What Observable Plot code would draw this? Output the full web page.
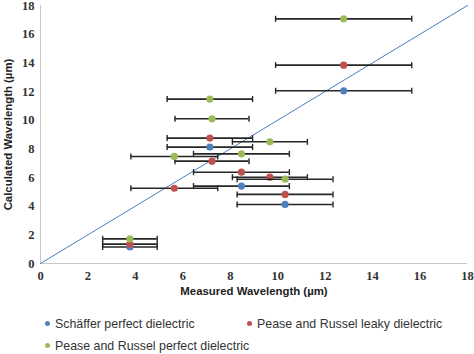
<!DOCTYPE html>
<html>
<head>
<meta charset="utf-8">
<script src="https://cdn.jsdelivr.net/npm/d3@7"></script>
<script src="https://cdn.jsdelivr.net/npm/@observablehq/plot@0.6"></script>
<style>
  body { margin: 0; background: #fff; }
  #chart { position: relative; width: 474px; height: 354px; }
  .legend { position: absolute; left: 0; top: 0; font-family: "Liberation Sans", sans-serif; font-size: 12.4px; color: #333; }
  .item { position: absolute; white-space: nowrap; }
  .sw { display: inline-block; width: 5px; height: 5px; border-radius: 50%; margin-right: 5px; vertical-align: 2px; }
</style>
</head>
<body>
<div id="chart"></div>
<script>
// Measured wavelengths (µm) and their symmetric error (µm)
const measured = [3.77, 5.64, 7.14, 7.23, 8.47, 9.67, 10.31, 12.78];
const measuredErr = [1.15, 1.83, 1.8, 1.56, 2.02, 1.58, 2.02, 2.87];
// Calculated wavelengths per series (null = no point)
const schafferPerfect = [1.15, null, 8.12, null, 5.4, null, 4.12, 12.05];
const peaseLeaky = [1.35, 5.25, 8.75, 7.14, 6.37, 6.02, 4.82, 13.84];
const peasePerfect = [1.72, 7.47, 11.47, 10.1, 7.65, 8.49, 5.88, 17.07];
const seriesNames = ["Schäffer perfect dielectric", "Pease and Russel leaky dielectric", "Pease and Russel perfect dielectric"];
const seriesColors = ["#4F81BD", "#C0504D", "#9BBB59"];
const axisTicks = [0, 2, 4, 6, 8, 10, 12, 14, 16, 18];
const identityLine = [0, 18];
const xTitle = "Measured Wavelength (µm)";
const yTitle = "Calculated Wavelength (µm)";

const seriesValues = [schafferPerfect, peaseLeaky, peasePerfect];
const rows = [];
seriesValues.forEach((vals, si) => vals.forEach((v, i) => {
  if (v != null) rows.push({series: seriesNames[si], order: si, x: measured[i], y: v, lo: measured[i] - measuredErr[i], hi: measured[i] + measuredErr[i]});
}));

const capSymbol = { draw(ctx) { ctx.moveTo(0, -3); ctx.lineTo(0, 3); } };
const tickFont = {fontFamily: "Liberation Serif, serif", fontWeight: "bold", fontSize: 12.5, fill: "#333"};
const titleFont = {fontFamily: "Liberation Sans, sans-serif", fontWeight: "bold", fontSize: 11.4, fill: "#222"};

const marks = [
  Plot.ruleY([0], {stroke: "#c8c8c8"}),
  Plot.ruleX([0], {stroke: "#c8c8c8"}),
  Plot.line(identityLine, {x: d => d, y: d => d, stroke: "#4A7EBB", strokeWidth: 1})
];
seriesNames.forEach((name, si) => {
  const sub = rows.filter(r => r.order === si);
  marks.push(
    Plot.ruleY(sub, {y: "y", x1: "lo", x2: "hi", stroke: "#262626", strokeWidth: 1.6}),
    Plot.dot(sub, {x: "lo", y: "y", symbol: capSymbol, stroke: "#262626", strokeWidth: 1.4, fill: "none"}),
    Plot.dot(sub, {x: "hi", y: "y", symbol: capSymbol, stroke: "#262626", strokeWidth: 1.4, fill: "none"}),
    Plot.dot(sub, {x: "x", y: "y", r: 3.6, fill: seriesColors[si], stroke: "none"})
  );
});
marks.push(
  Plot.axisX(axisTicks, {tickSize: 0, tickPadding: 8, label: null, ...tickFont}),
  Plot.axisY(axisTicks, {tickSize: 0, tickPadding: 6, label: null, ...tickFont}),
  Plot.text([xTitle], {text: d => d, frameAnchor: "bottom", dy: 31, ...titleFont}),
  Plot.text([yTitle], {text: d => d, frameAnchor: "left", textAnchor: "middle", dx: -32, rotate: -90, ...titleFont})
);

const plot = Plot.plot({
  width: 474,
  height: 302,
  marginLeft: 40,
  marginRight: 7,
  marginTop: 5,
  marginBottom: 39,
  x: {domain: [0, 18]},
  y: {domain: [0, 18]},
  marks
});
const chart = document.getElementById("chart");
chart.appendChild(plot);

const legend = document.createElement("div");
legend.className = "legend";
const positions = [[45, 325], [247, 325], [45, 347]];
seriesNames.forEach((name, i) => {
  const it = document.createElement("div");
  it.className = "item";
  it.style.left = positions[i][0] + "px";
  it.style.top = (positions[i][1] - 8) + "px";
  it.innerHTML = `<span class="sw" style="background:${seriesColors[i]}"></span>${name}`;
  legend.appendChild(it);
});
chart.appendChild(legend);
</script>
</body>
</html>
